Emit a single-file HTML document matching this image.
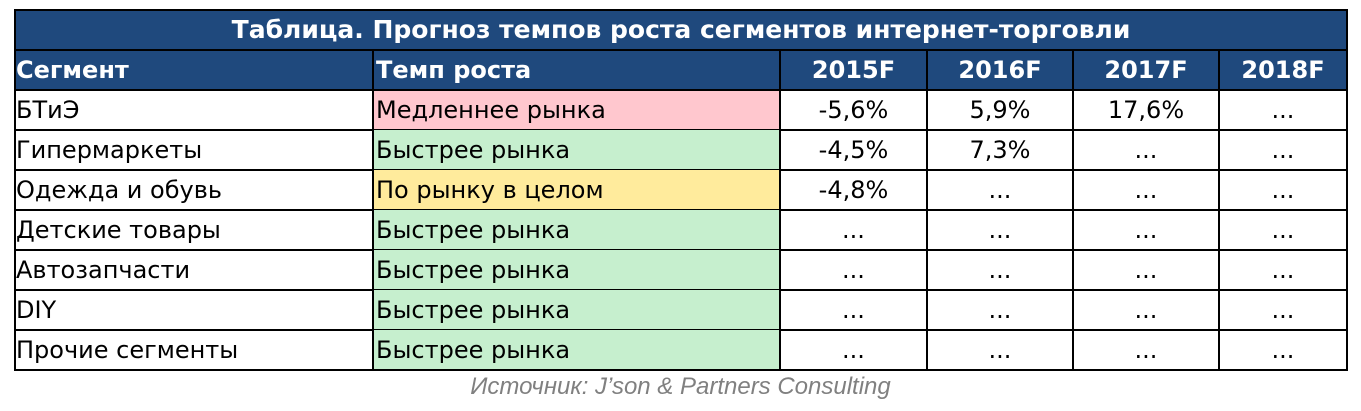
<!DOCTYPE html>
<html><head><meta charset="utf-8"><style>
body{margin:0;background:#fff;width:1361px;height:411px;position:relative;overflow:hidden;font-family:"DejaVu Sans","Liberation Sans",sans-serif}
.c{position:absolute;box-sizing:border-box;height:40px;line-height:40px;font-size:24px;color:#000;white-space:nowrap;overflow:hidden}
.h{background:#1f497d;color:#fff;font-weight:bold;font-size:24px}
.hl{position:absolute;background:#000;height:2px}
.vl{position:absolute;background:#000;width:2px}
</style></head><body>
<div class="c h" style="left:14px;top:10px;width:1334px;height:40px;text-align:center;font-size:25px">Таблица. Прогноз темпов роста сегментов интернет-торговли</div>
<div class="c h" style="left:14px;top:50px;width:1334px;"></div>
<div class="c h" style="left:16px;top:50px;width:350px;background:none">Сегмент</div>
<div class="c h" style="left:376px;top:50px;width:400px;background:none">Темп роста</div>
<div class="c h" style="left:780px;top:50px;width:147px;text-align:center;background:none">2015F</div>
<div class="c h" style="left:927px;top:50px;width:146px;text-align:center;background:none">2016F</div>
<div class="c h" style="left:1073px;top:50px;width:146px;text-align:center;background:none">2017F</div>
<div class="c h" style="left:1219px;top:50px;width:128px;text-align:center;background:none">2018F</div>
<div id="rows"></div>
<script>
var d=[["БТиЭ","Медленнее рынка","#ffc7ce","-5,6%","5,9%","17,6%","..."],
["Гипермаркеты","Быстрее рынка","#c6efce","-4,5%","7,3%","...","..."],
["Одежда и обувь","По рынку в целом","#ffeb9c","-4,8%","...","...","..."],
["Детские товары","Быстрее рынка","#c6efce","...","...","...","..."],
["Автозапчасти","Быстрее рынка","#c6efce","...","...","...","..."],
["DIY","Быстрее рынка","#c6efce","...","...","...","..."],
["Прочие сегменты","Быстрее рынка","#c6efce","...","...","...","..."]];
var cx=[[780,147],[927,146],[1073,146],[1219,128]],h="";
d.forEach(function(r,i){var y=90+i*40;
h+='<div class="c" style="left:16px;top:'+y+'px;width:355px">'+r[0]+'</div>';
h+='<div class="c" style="left:373px;top:'+y+'px;width:406px;background:'+r[2]+';padding-left:3px">'+r[1]+'</div>';
for(var k=0;k<4;k++)h+='<div class="c" style="left:'+cx[k][0]+'px;top:'+y+'px;width:'+cx[k][1]+'px;text-align:center">'+r[3+k]+'</div>';
h+='<div class="hl" style="left:14px;top:'+(y+39)+'px;width:1334px"></div>';});
[14,372,779,926,1072,1218,1346].forEach(function(x){h+='<div class="vl" style="left:'+x+'px;top:'+(x==14||x==1346?10:50)+'px;height:'+(x==14||x==1346?361:321)+'px"></div>';});
h+='<div class="hl" style="left:14px;top:9px;width:1334px"></div><div class="hl" style="left:14px;top:49px;width:1334px"></div><div class="hl" style="left:14px;top:89px;width:1334px"></div>';
document.getElementById("rows").innerHTML=h;
</script>
<div style="position:absolute;left:0;width:1361px;top:373px;text-align:center;font-family:'Liberation Sans',sans-serif;font-size:24px;font-style:italic;color:#808080">Источник: J’son &amp; Partners Consulting</div>
</body></html>
